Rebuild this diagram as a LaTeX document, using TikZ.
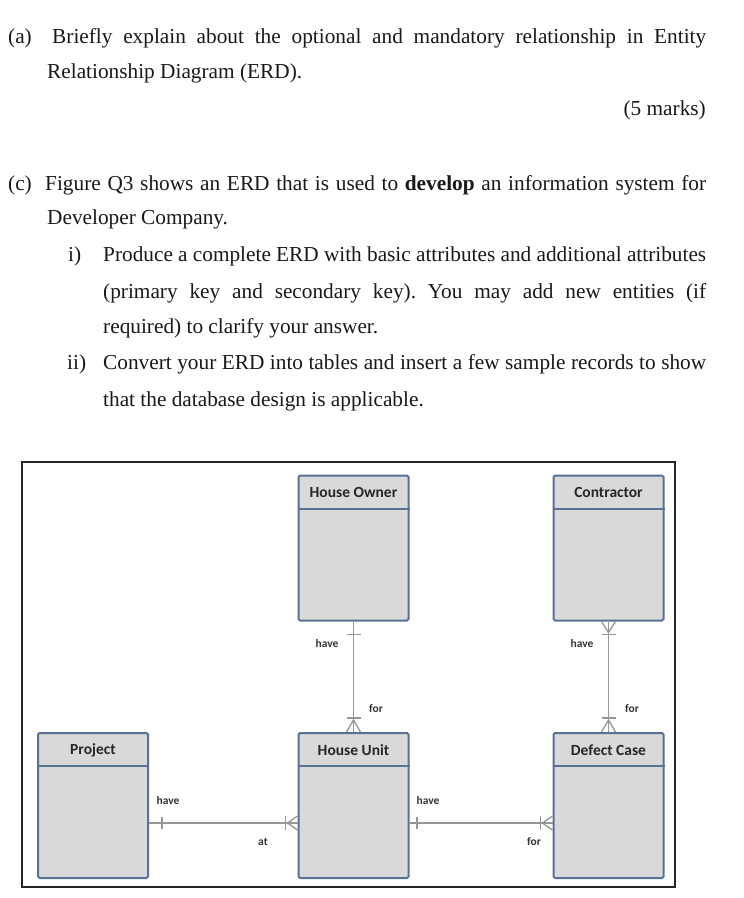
\documentclass[tikz,border=0pt]{standalone}
\usepackage{fontspec}
\setmainfont{Liberation Serif}
\newfontfamily\erdfont{Carlito}
\usetikzlibrary{calc}
\definecolor{erdblue}{RGB}{88,114,150}
\definecolor{erdgray}{RGB}{217,217,217}
\definecolor{conngray}{RGB}{150,150,150}
\definecolor{inkgray}{RGB}{25,25,25}
\frenchspacing
\begin{document}
\begin{tikzpicture}[x=1pt,y=-1pt,
  txt/.style={anchor=base west,inner sep=0,text=inkgray,font=\fontsize{21.3}{24}\selectfont},
  entity/.style={draw=erdblue,fill=erdgray,line width=2pt,rounded corners=1.5pt,minimum width=110pt,minimum height=145pt,inner sep=0,anchor=north west},
  divider/.style={draw=erdblue,line width=2pt},
  head/.style={inner sep=0,font=\erdfont\bfseries\fontsize{15.5}{17}\selectfont,text=black!85},
  conn/.style={draw=conngray,line width=1.3pt},
  rel/.style={inner sep=0,font=\erdfont\bfseries\fontsize{11.5}{13}\selectfont,text=black!80}]
\useasboundingbox (0,0) rectangle (744,898);
\fill[white] (0,0) rectangle (744,898);

% ---- question text ----
\node[txt] (a1) at (8,43) {(a)};
\node[txt] (a2) at (52,43) {\makebox[654pt][s]{Briefly explain about the optional and mandatory relationship in Entity}};
\node[txt] (a3) at (47,78) {Relationship Diagram (ERD).};
\node[txt,anchor=base east] (a4) at (706,115) {(5 marks)};

\node[txt] (c1) at (8,190) {(c)};
\node[txt] (c2) at (45,190) {\makebox[661pt][s]{Figure Q3 shows an ERD that is used to \textbf{develop} an information system for}};
\node[txt] (c3) at (47,224) {Developer Company.};
\node[txt] (i1) at (68,261) {i)};
\node[txt] (i2) at (103,261) {\makebox[603pt][s]{Produce a complete ERD with basic attributes and additional attributes}};
\node[txt] (i3) at (103,298) {\makebox[603pt][s]{(primary key and secondary key). You may add new entities (if}};
\node[txt] (i4) at (103,333) {required) to clarify your answer.};
\node[txt] (ii1) at (67,369) {ii)};
\node[txt] (ii2) at (103,369) {\makebox[603pt][s]{Convert your ERD into tables and insert a few sample records to show}};
\node[txt] (ii3) at (103,406) {that the database design is applicable.};

% ---- figure frame ----
\draw[line width=1.8pt,black!85] (22,462) rectangle (675,887);

% ---- entities ----
\node[entity] (ho) at (297.5,474.5) {};
\node[entity] (co) at (552.5,474.5) {};
\node[entity] (pr) at (37,732) {};
\node[entity] (hu) at (297.5,732) {};
\node[entity] (dc) at (552.5,732) {};
\foreach \n/\t in {ho/House Owner,co/Contractor,pr/Project,hu/House Unit,dc/Defect Case}{
  \draw[divider] ($(\n.north west)+(0,34)$) -- ($(\n.north east)+(0,34)$);
  \node[head] (\n-h) at ($(\n.north)+(0,18)$) {\t};
}

% ---- connectors ----
% House Owner -- House Unit
\draw[conn] (ho.south) -- (hu.north);
\draw[conn] ($(ho.south)+(-7,13)$) -- ($(ho.south)+(7,13)$);
\draw[conn] ($(hu.north)+(-7,-14)$) -- ($(hu.north)+(7,-14)$);
\draw[conn] ($(hu.north)+(-7,0)$) -- ($(hu.north)+(0,-12)$) -- ($(hu.north)+(7,0)$);
% Contractor -- Defect Case
\draw[conn] (co.south) -- (dc.north);
\draw[conn] ($(co.south)+(-7,0)$) -- ($(co.south)+(0,11)$) -- ($(co.south)+(7,0)$);
\draw[conn] ($(co.south)+(-7,13)$) -- ($(co.south)+(7,13)$);
\draw[conn] ($(dc.north)+(-7,-14)$) -- ($(dc.north)+(7,-14)$);
\draw[conn] ($(dc.north)+(-7,0)$) -- ($(dc.north)+(0,-12)$) -- ($(dc.north)+(7,0)$);
% Project -- House Unit
\coordinate (p1) at ($(pr.east)+(0,17.5)$);
\coordinate (p2) at ($(hu.west)+(0,17.5)$);
\draw[conn] (p1) -- (p2);
\draw[conn] ($(p1)+(13,-6)$) -- ($(p1)+(13,6)$);
\draw[conn] ($(p2)+(-12,-7)$) -- ($(p2)+(-12,7)$);
\draw[conn] ($(p2)+(0,-7)$) -- ($(p2)+(-10,0)$) -- ($(p2)+(0,7)$);
% House Unit -- Defect Case
\coordinate (q1) at ($(hu.east)+(0,17.5)$);
\coordinate (q2) at ($(dc.west)+(0,17.5)$);
\draw[conn] (q1) -- (q2);
\draw[conn] ($(q1)+(7.5,-6)$) -- ($(q1)+(7.5,6)$);
\draw[conn] ($(q2)+(-12,-7)$) -- ($(q2)+(-12,7)$);
\draw[conn] ($(q2)+(0,-7)$) -- ($(q2)+(-10,0)$) -- ($(q2)+(0,7)$);

% ---- relationship labels ----
\node[rel] (l1) at (327,643) {have};
\node[rel] (l2) at (376,709) {for};
\node[rel] (l3) at (582,643) {have};
\node[rel] (l4) at (632,709) {for};
\node[rel] (l5) at (168,800) {have};
\node[rel] (l6) at (263,842) {at};
\node[rel] (l7) at (428,800) {have};
\node[rel] (l8) at (534,842) {for};
\end{tikzpicture}
\end{document}
